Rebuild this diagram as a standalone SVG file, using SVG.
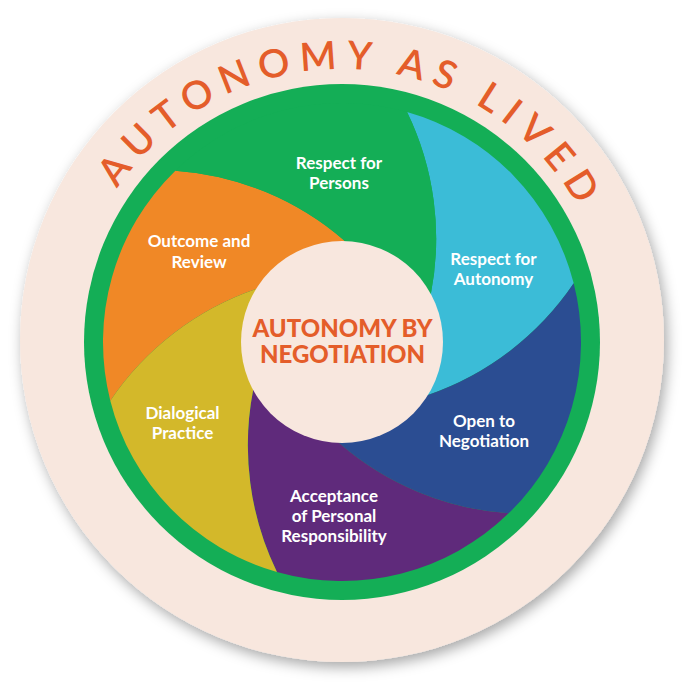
<svg xmlns="http://www.w3.org/2000/svg" width="685" height="685" viewBox="0 0 685 685">
  <defs>
    <style>
      .lbl { font-family: Lato, "Open Sans", "DejaVu Sans", sans-serif; font-weight: 700; font-size: 17px; fill: #ffffff; text-anchor: middle; }
      .ctr { font-family: Lato, "Open Sans", "DejaVu Sans", sans-serif; font-weight: 900; font-size: 24px; fill: #E45D2A; text-anchor: middle; }
      .ttl { font-family: Lato, "Open Sans", "DejaVu Sans", sans-serif; font-weight: 600; font-size: 39px; fill: #E45D2A; letter-spacing: 9px; }
    </style>
    <filter id="shadow" x="-10%" y="-10%" width="125%" height="125%">
      <feDropShadow dx="3" dy="5" stdDeviation="7" flood-color="#000000" flood-opacity="0.35"/>
    </filter>
    <path id="titleArc" d="M 71 340 A 271 271 0 0 1 613 340"/>
  </defs>

  <g id="background">
    <circle cx="342" cy="340" r="322" fill="#F8E7DE" filter="url(#shadow)"/>
    <circle cx="342" cy="342" r="258" fill="#14AE56"/>
  </g>

  <g id="title">
    <text class="ttl"><textPath href="#titleArc" startOffset="440" text-anchor="middle">AUTONOMY AS LIVED</textPath></text>
  </g>

  <g id="respect-for-autonomy">
    <path d="M 430.85 293.96 A 290 290 0 0 0 407.07 112.03 A 239 239 0 0 1 573.70 283.37 A 290 290 0 0 1 428.02 394.92 L 342 342 Z" fill="#3BBCD7"/>
    <text class="lbl" x="493.5" y="265">Respect for</text>
    <text class="lbl" x="493.5" y="285">Autonomy</text>
  </g>

  <g id="open-to-negotiation">
    <path d="M 428.02 394.92 A 290 290 0 0 0 573.70 283.37 A 239 239 0 0 1 508.62 513.34 A 290 290 0 0 1 339.18 442.96 L 342 342 Z" fill="#2B4D92"/>
    <text class="lbl" x="484" y="427">Open to</text>
    <text class="lbl" x="484" y="447">Negotiation</text>
  </g>

  <g id="acceptance-of-personal-responsibility">
    <path d="M 339.18 442.96 A 290 290 0 0 0 508.62 513.34 A 239 239 0 0 1 276.93 571.97 A 290 290 0 0 1 253.15 390.04 L 342 342 Z" fill="#5F2A7B"/>
    <text class="lbl" x="334" y="501.5">Acceptance</text>
    <text class="lbl" x="334" y="522">of Personal</text>
    <text class="lbl" x="334" y="542">Responsibility</text>
  </g>

  <g id="dialogical-practice">
    <path d="M 253.15 390.04 A 290 290 0 0 0 276.93 571.97 A 239 239 0 0 1 110.30 400.63 A 290 290 0 0 1 255.98 289.08 L 342 342 Z" fill="#D3B82A"/>
    <text class="lbl" x="182.5" y="418.5">Dialogical</text>
    <text class="lbl" x="182.5" y="438.5">Practice</text>
  </g>

  <g id="outcome-and-review">
    <path d="M 255.98 289.08 A 290 290 0 0 0 110.30 400.63 A 239 239 0 0 1 175.38 170.66 A 290 290 0 0 1 344.82 241.04 L 342 342 Z" fill="#F08826"/>
    <text class="lbl" x="199" y="247">Outcome and</text>
    <text class="lbl" x="199" y="268">Review</text>
  </g>

  <g id="respect-for-persons">
    <path d="M 344.82 241.04 A 290 290 0 0 0 175.38 170.66 A 239 239 0 0 1 407.07 112.03 A 290 290 0 0 1 430.85 293.96 L 342 342 Z" fill="#14AE56"/>
    <text class="lbl" x="339" y="169">Respect for</text>
    <text class="lbl" x="339" y="189">Persons</text>
  </g>

  <g id="autonomy-by-negotiation">
    <circle cx="342" cy="342" r="101" fill="#F8E7DE"/>
    <text class="ctr" x="342.5" y="337">AUTONOMY BY</text>
    <text class="ctr" x="342.5" y="363">NEGOTIATION</text>
  </g>
</svg>
